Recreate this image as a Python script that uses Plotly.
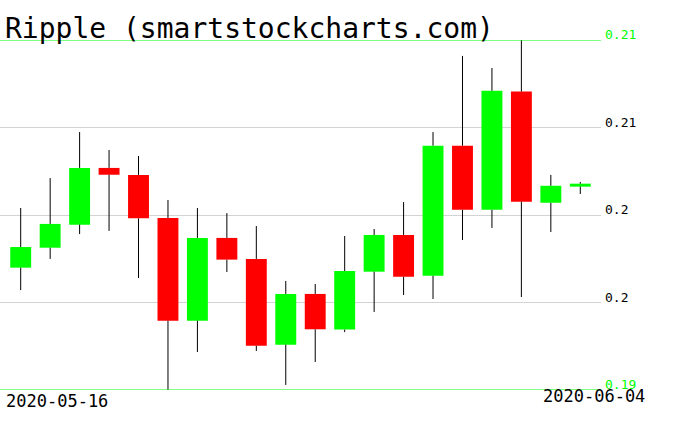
"""
Ripple candlestick chart (smartstockcharts.com style), rebuilt with plotly.
"""
from datetime import datetime, timedelta
import plotly.graph_objects as go

# daily OHLC, 2020-05-16 .. 2020-06-04
dates = [datetime(2020, 5, 16) + timedelta(days=i) for i in range(20)]
opens = [0.19849, 0.19963, 0.20095, 0.20419, 0.20379, 0.20133, 0.19546, 0.20019, 0.19899, 0.19409,
         0.19699, 0.19495, 0.19826, 0.20036, 0.19803, 0.20546, 0.20180, 0.20855, 0.20220, 0.20312]
highs = [0.20190, 0.20361, 0.20624, 0.20521, 0.20487, 0.20236, 0.20190, 0.20161, 0.20087, 0.19773,
         0.19756, 0.20030, 0.20070, 0.20224, 0.20624, 0.21059, 0.20990, 0.21150, 0.20379, 0.20339]
lows = [0.19721, 0.19899, 0.20041, 0.20059, 0.19790, 0.19150, 0.19367, 0.19824, 0.19373, 0.19179,
        0.19310, 0.19481, 0.19596, 0.19693, 0.19670, 0.20007, 0.20076, 0.19681, 0.20053, 0.20270]
closes = [0.19967, 0.20099, 0.20419, 0.20380, 0.20131, 0.19546, 0.20019, 0.19895, 0.19403, 0.19699,
          0.19497, 0.19830, 0.20036, 0.19797, 0.20546, 0.20180, 0.20860, 0.20226, 0.20317, 0.20329]

title = "Ripple (smartstockcharts.com)"

GREEN = '#00ff00'
RED = '#ff0000'
DAY_MS = 86400000

lo = min(lows)
hi = max(highs)
tick_vals = [lo + k * (hi - lo) / 4 for k in range(5)]

# corps des bougies
body_base = [min(o, c) for o, c in zip(opens, closes)]
body_height = [abs(c - o) for o, c in zip(opens, closes)]
body_color = [GREEN if c >= o else RED for o, c in zip(opens, closes)]

# mèches (au-dessus et en dessous du corps)
wick_x, wick_y = [], []
for d, o, h, l, c in zip(dates, opens, highs, lows, closes):
    wick_x += [d, d, None, d, d, None]
    wick_y += [max(o, c), h, None, l, min(o, c), None]

fig = go.Figure()
fig.add_trace(go.Scatter(
    x=wick_x, y=wick_y, mode='lines',
    line=dict(color='black', width=1),
    hoverinfo='skip', showlegend=False,
))
fig.add_trace(go.Bar(
    x=dates, y=body_height, base=body_base,
    width=0.71 * DAY_MS,
    marker=dict(color=body_color, line=dict(width=0)),
    showlegend=False,
))

# lignes vertes min / max
for v in (lo, hi):
    fig.add_shape(type='line', xref='paper', x0=0, x1=1, yref='y', y0=v, y1=v,
                  line=dict(color=GREEN, width=1))

# étiquettes de l'axe Y (à droite, posées sur la ligne)
for i, v in enumerate(tick_vals):
    fig.add_annotation(
        text=f"{round(v, 2):g}", xref='paper', x=1, xanchor='left', xshift=2,
        yref='y', y=v, yanchor='bottom', yshift=-4, showarrow=False,
        font=dict(family='DejaVu Sans Mono', size=13,
                  color=GREEN if i in (0, 4) else 'black'),
    )

# dates début / fin
fig.add_annotation(text=dates[0].strftime('%Y-%m-%d'), xref='paper', x=0, xanchor='left', xshift=4,
                   yref='paper', y=0, yanchor='top', yshift=1, showarrow=False,
                   font=dict(family='DejaVu Sans Mono', size=17, color='black'))
fig.add_annotation(text=dates[-1].strftime('%Y-%m-%d'), xref='paper', x=1, xanchor='right', xshift=46,
                   yref='paper', y=0, yanchor='top', yshift=6, showarrow=False,
                   font=dict(family='DejaVu Sans Mono', size=17, color='black'))

fig.add_annotation(text=title, xref='paper', x=0, xanchor='left', xshift=3,
                   yref='paper', y=1, yanchor='bottom', yshift=-7, showarrow=False,
                   font=dict(family='DejaVu Sans Mono', size=28, color='black'))

fig.update_layout(
    width=676, height=431,
    margin=dict(l=0, r=75, t=40, b=41),
    plot_bgcolor='white', paper_bgcolor='white',
    xaxis=dict(type='date', range=[dates[0] - timedelta(days=0.703), dates[-1] + timedelta(days=0.703)],
               showgrid=False, zeroline=False, showticklabels=False, ticks=''),
    yaxis=dict(range=[lo, hi], tickvals=tick_vals, showticklabels=False,
               gridcolor='#d3d3d3', gridwidth=1, zeroline=False, ticks=''),
    hovermode=False,
)

# pas de marge du <body> : le graphique commence au coin de la fenêtre
fig.write_html("out.html", config=dict(displayModeBar=False),
               post_script="document.body.style.margin='0';")
